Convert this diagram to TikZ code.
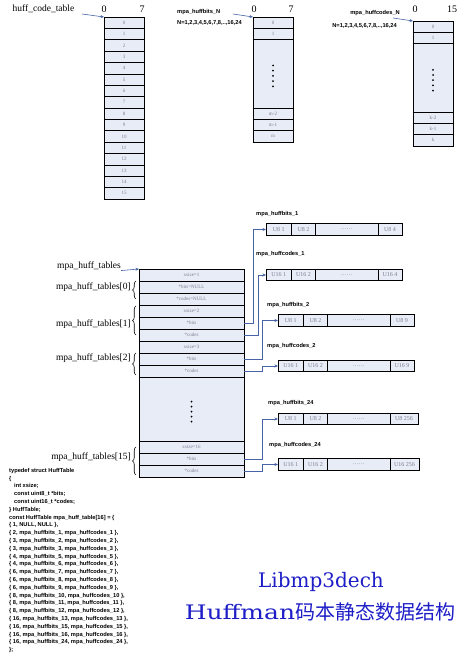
\documentclass[tikz,border=0pt]{standalone}
\usepackage{fontspec}
\setmainfont{Liberation Serif}
\setsansfont{Liberation Sans}
\newfontfamily\titlefont{DejaVu Serif}
\newfontfamily\cjkfont{Noto Sans CJK SC}
\usetikzlibrary{positioning}
\usetikzlibrary{arrows.meta}
\usetikzlibrary{decorations.pathreplacing}

\definecolor{cellfill}{RGB}{231,236,246}
\definecolor{celltext}{RGB}{125,125,145}
\definecolor{ptrblue}{RGB}{70,100,165}
\definecolor{titleblue}{RGB}{30,30,200}

\begin{document}
\begin{tikzpicture}[
    x=1pt,
    y=-1pt,
    cell/.style={draw=black, line width=0.7pt, fill=cellfill, text=celltext,
        inner sep=0pt, outer sep=0pt, minimum width=40pt, minimum height=11.3pt,
        font=\fontsize{5}{6}\selectfont},
    slot/.style={cell, minimum width=105pt, minimum height=12pt},
    arrcell/.style={cell, minimum height=11.5pt, font=\fontsize{6}{7}\selectfont},
    ptr/.style={draw=ptrblue, line width=0.6pt, -{Stealth[length=3.5pt, width=3pt]}},
    brc/.style={decorate, decoration={brace, amplitude=3.5pt}, line width=0.6pt},
    lbl/.style={font=\fontsize{9.5}{11}\selectfont, inner sep=0pt},
    hdr/.style={font=\fontsize{10}{12}\selectfont, inner sep=0pt},
    tag/.style={font=\sffamily\bfseries\fontsize{5.7}{7}\selectfont, inner sep=0pt},
    codetext/.style={font=\sffamily\bfseries\fontsize{5.7}{7.8}\selectfont,
        inner sep=0pt, align=left}
]
\useasboundingbox (0,0) rectangle (474,671);

% huff_code_table
\node[lbl] (hctname) at (43.5,9) {huff\_code\_table};
\node[hdr] (hch0) at (104,9) {0};
\node[hdr] (hch7) at (142,9) {7};
\foreach \i in {0,...,15}
    \node[cell, minimum height=11.375pt] (hc\i) at (124,{22.69+11.375*\i}) {\i};
\coordinate (hctail) at (82,14);
\draw[ptr] (hctail) -- (hc0.north west);

% mpa_huffbits_N
\node[tag, anchor=west] (bnname) at (177,12) {mpa\_huffbits\_N};
\node[tag, anchor=west] (bnlist) at (177,23) {N=1,2,3,4,5,6,7,8,..,16,24};
\node[hdr] (bnh0) at (254,9) {0};
\node[hdr] (bnh7) at (291,9) {7};
\node[cell, minimum height=11pt] (bn0) at (273,22.5) {0};
\node[cell, minimum height=11pt, below=0pt of bn0] (bn1) {1};
\node[cell, minimum height=69pt, below=0pt of bn1] (bndots) {};
\node[cell, below=0pt of bndots] (bnm2) {m-2};
\node[cell, below=0pt of bnm2] (bnm1) {m-1};
\node[cell, below=0pt of bnm1] (bnm) {m};
\foreach \k in {0,...,4}
    \fill (bndots.center) ++(0,{-8+5.2*\k}) circle (1pt);
\coordinate (bntail) at (233,14);
\draw[ptr] (bntail) -- (bn0.north west);

% mpa_huffcodes_N
\node[tag, anchor=east] (cnname) at (400,13) {mpa\_huffcodes\_N};
\node[tag, anchor=east] (cnlist) at (397,26) {N=1,2,3,4,5,6,7,8,..,16,24};
\node[hdr] (cnh0) at (415,9) {0};
\node[hdr] (cnh15) at (452,9) {15};
\node[cell] (cn0) at (433,26.65) {0};
\node[cell, below=0pt of cn0] (cn1) {1};
\node[cell, minimum height=68.4pt, below=0pt of cn1] (cndots) {};
\node[cell, below=0pt of cndots] (cnk2) {k-2};
\node[cell, below=0pt of cnk2] (cnk1) {k-1};
\node[cell, below=0pt of cnk1] (cnk) {k};
\foreach \k in {0,...,4}
    \fill (cndots.center) ++(0,{-8+5.2*\k}) circle (1pt);
\coordinate (cntail) at (393,18);
\draw[ptr] (cntail) -- (cn0.north west);

% mpa_huff_tables
\node[slot] (t0size) at (191.5,275) {xsize=1};
\node[slot, below=0pt of t0size] (t0bits) {*bits=NULL};
\node[slot, below=0pt of t0bits] (t0codes) {*codes=NULL};
\node[slot, below=0pt of t0codes] (t1size) {xsize=2};
\node[slot, below=0pt of t1size] (t1bits) {*bits};
\node[slot, below=0pt of t1bits] (t1codes) {*codes};
\node[slot, below=0pt of t1codes] (t2size) {xsize=3};
\node[slot, below=0pt of t2size] (t2bits) {*bits};
\node[slot, below=0pt of t2bits] (t2codes) {*codes};
\node[slot, minimum height=64pt, below=0pt of t2codes] (tdots) {};
\node[slot, below=0pt of tdots] (t15size) {xsize=16};
\node[slot, below=0pt of t15size] (t15bits) {*bits};
\node[slot, below=0pt of t15bits] (t15codes) {*codes};
\foreach \k in {0,...,4}
    \fill (tdots.center) ++(0,{-7.5+5*\k}) circle (1pt);

\node[lbl, anchor=west] (tabsname) at (57,266) {mpa\_huff\_tables};
\draw[ptr] (tabsname.south east) -- (t0size.north west);

\node[lbl, anchor=east] (tabs0) at (131,287) {mpa\_huff\_tables[0]};
\node[lbl, anchor=east] (tabs1) at (131,324) {mpa\_huff\_tables[1]};
\node[lbl, anchor=east] (tabs2) at (131,358) {mpa\_huff\_tables[2]};
\node[lbl, anchor=east] (tabs15) at (131,457) {mpa\_huff\_tables[15]};
\draw[brc] (136,299) -- (136,281);
\draw[brc] (136,335) -- (136,306);
\draw[brc] (136,375) -- (136,353);
\draw[brc] (136,475) -- (136,447);

% bits / codes arrays
\foreach \nm/\x/\y/\pre/\last/\lw/\lx/\ly/\ttl in {
    hb1/266/229.5/U8/4/24/256/214/mpa\_huffbits\_1,
    hc1/266/275/U16/4/24/256/254/mpa\_huffcodes\_1,
    hb2/278/320.5/U8/9/24/267/305/mpa\_huffbits\_2,
    hc2/278/366/U16/9/24/267/346/mpa\_huffcodes\_2,
    hb24/278/419/U8/256/28/268/403/mpa\_huffbits\_24,
    hc24/278/464.5/U16/256/29/269/445/mpa\_huffcodes\_24}
{
    \node[tag, anchor=west] (\nm-name) at (\lx,\ly) {\ttl};
    \node[arrcell, minimum width=25.5pt, anchor=west] (\nm-a) at (\x,\y) {\pre\ 1};
    \node[arrcell, minimum width=24pt, right=0pt of \nm-a] (\nm-b) {\pre\ 2};
    \node[arrcell, minimum width=62.5pt, right=0pt of \nm-b] (\nm-d) {……};
    \node[arrcell, minimum width=\lw pt, right=0pt of \nm-d] (\nm-z) {\pre\ \last};
}

\draw[ptr] (t1bits.east) -- ++(9,0) |- (hb1-a.west);
\draw[ptr] (t1codes.east) -- ++(14,0) |- (hc1-a.west);
\draw[ptr] (t2bits.east) -- ++(18,0) |- (hb2-a.west);
\draw[ptr] (t2codes.east) -- ++(18,0) |- (hc2-a.west);
\draw[ptr] (t15bits.east) -- ++(18,0) |- (hb24-a.west);
\draw[ptr] (t15codes.east) -- ++(18,0) |- (hc24-a.west);

% C source
\node[codetext, anchor=north west] (hufcode) at (9,468) {%
typedef struct HuffTable\\
\{\\
\hspace*{5pt}int xsize;\\
\hspace*{5pt}const uint8\_t *bits;\\
\hspace*{5pt}const uint16\_t *codes;\\
\} HuffTable;\\
const HuffTable mpa\_huff\_table[16] = \{\\
\{ 1, NULL, NULL \},\\
\{ 2, mpa\_huffbits\_1, mpa\_huffcodes\_1 \},\\
\{ 3, mpa\_huffbits\_2, mpa\_huffcodes\_2 \},\\
\{ 3, mpa\_huffbits\_3, mpa\_huffcodes\_3 \},\\
\{ 4, mpa\_huffbits\_5, mpa\_huffcodes\_5 \},\\
\{ 4, mpa\_huffbits\_6, mpa\_huffcodes\_6 \},\\
\{ 6, mpa\_huffbits\_7, mpa\_huffcodes\_7 \},\\
\{ 6, mpa\_huffbits\_8, mpa\_huffcodes\_8 \},\\
\{ 6, mpa\_huffbits\_9, mpa\_huffcodes\_9 \},\\
\{ 8, mpa\_huffbits\_10, mpa\_huffcodes\_10 \},\\
\{ 8, mpa\_huffbits\_11, mpa\_huffcodes\_11 \},\\
\{ 8, mpa\_huffbits\_12, mpa\_huffcodes\_12 \},\\
\{ 16, mpa\_huffbits\_13, mpa\_huffcodes\_13 \},\\
\{ 16, mpa\_huffbits\_15, mpa\_huffcodes\_15 \},\\
\{ 16, mpa\_huffbits\_16, mpa\_huffcodes\_16 \},\\
\{ 16, mpa\_huffbits\_24, mpa\_huffcodes\_24 \},\\
\};};

% title
\node[text=titleblue, font=\titlefont\fontsize{20}{24}\selectfont] (title1) at (321,582) {Libmp3dech};
\node[text=titleblue, font=\titlefont\fontsize{20}{24}\selectfont] (title2) at (320,612)
    {\scalebox{1.25}[1]{Huffman}{\cjkfont 码本静态数据结构}};
\end{tikzpicture}
\end{document}
